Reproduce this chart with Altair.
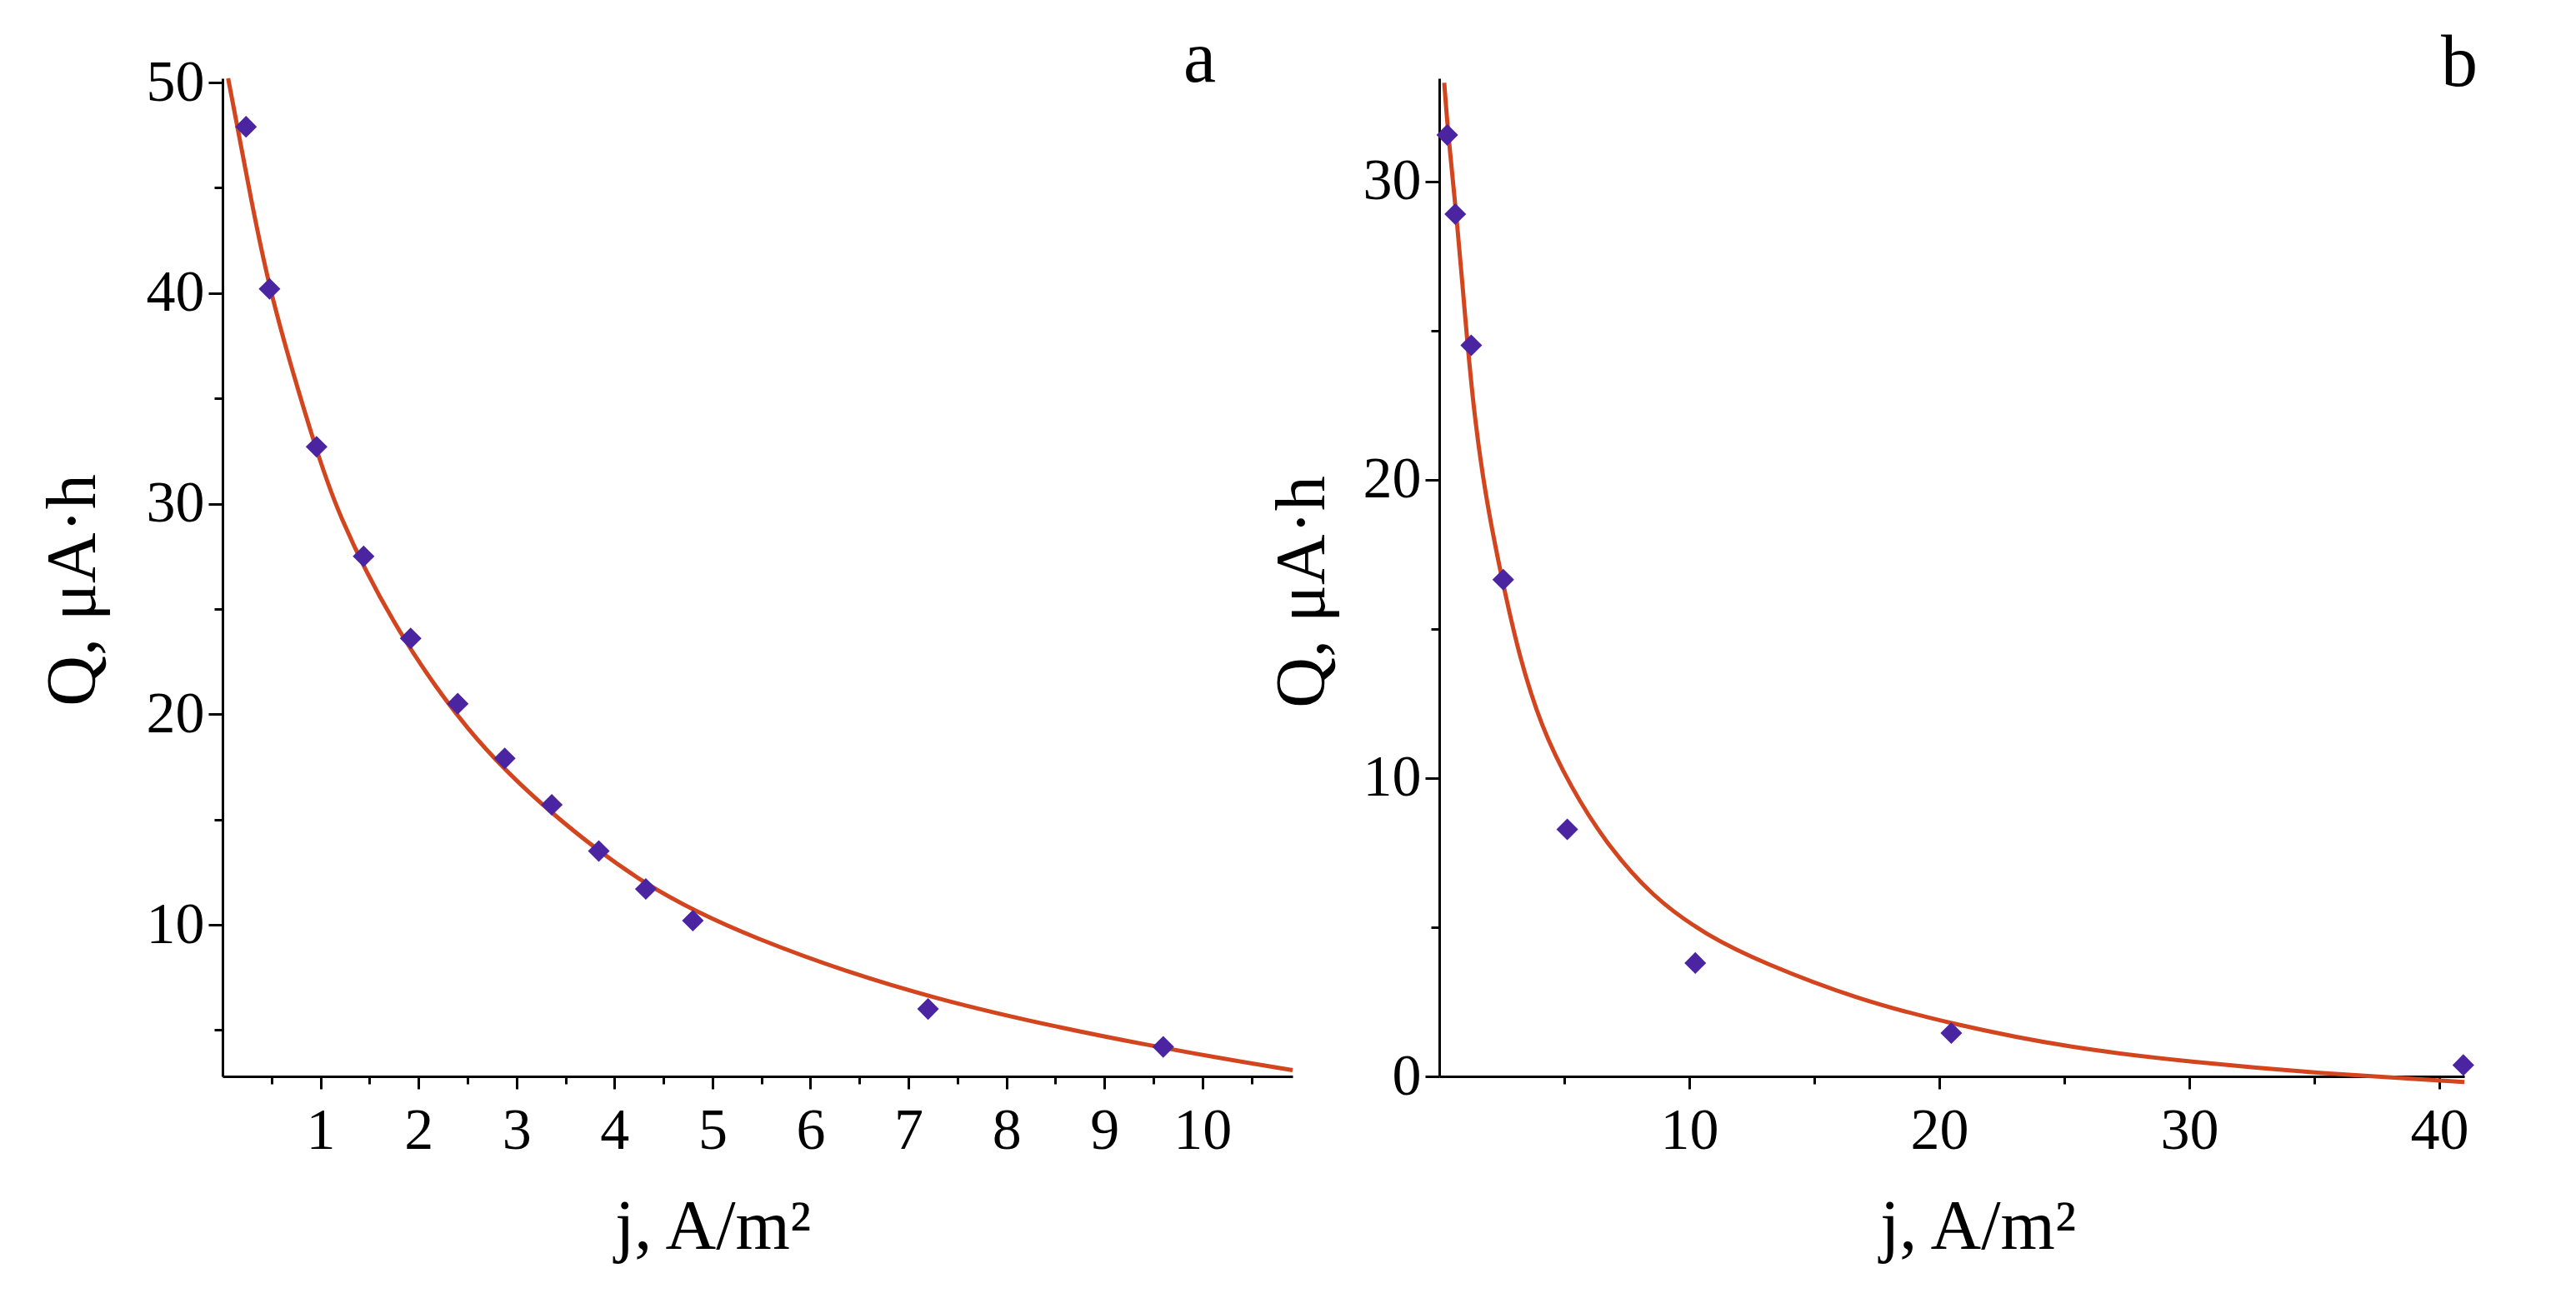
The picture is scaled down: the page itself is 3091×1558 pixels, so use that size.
import altair as alt
import pandas as pd

# ---- panel a: measured points ----
ja = [0.24, 0.48, 0.96, 1.44, 1.92, 2.4, 2.88, 3.36, 3.84, 4.32, 4.8, 7.2, 9.6]
Qa = [47.9, 40.2, 32.7, 27.5, 23.6, 20.5, 17.9, 15.7, 13.5, 11.7, 10.2, 6.0, 4.2]
# ---- panel a: fitted curve ----
fja = [0.057, 0.25, 0.47, 0.95, 1.17, 1.7, 2.5, 3.32, 4.31, 5.33, 7.2, 9.6, 10.92]
fQa = [50.2, 45.5, 40.1, 32.6, 29.6, 24.5, 19.05, 15.36, 11.8, 9.46, 6.4, 4.1, 3.1]

# ---- panel b: measured points ----
jb = [0.32, 0.64, 1.28, 2.56, 5.12, 10.24, 20.48, 40.96]
Qb = [31.55, 28.9, 24.5, 16.65, 8.28, 3.8, 1.45, 0.38]
# ---- panel b: fitted curve ----
fjb = [0.2, 0.36, 0.7, 1.03, 1.35, 1.83, 2.52, 3.19, 4.08, 5.26, 6.59, 8.52, 10.74,
       12.96, 16.66, 20.5, 25.2, 30.2, 35.2, 41.0]
fQb = [33.3, 31.5, 28.8, 25.5, 22.5, 19.5, 16.6, 14.1, 11.7, 9.7, 7.9, 6.0, 4.7,
       3.8, 2.6, 1.75, 0.95, 0.47, 0.1, -0.19]

# tick values
xa_ticks = [0.5 * i for i in range(1, 22)]
ya_ticks = [5 * i for i in range(1, 11)]
xb_ticks = [5 * i for i in range(1, 9)]
yb_ticks = [5 * i for i in range(0, 7)]

FONT = "Liberation Serif"
RED = "#D2451E"
BLUE = "#4B24A2"


def panel(px, py, fx, fy, xdom, ydom, xticks, yticks, xmaj, ymaj,
          letter, letter_dx, letter_dy, w, h, xtitle_x, ytitle_x, ytitle_y):
    pts = pd.DataFrame({"j": px, "Q": py})
    fit = pd.DataFrame({"j": fx, "Q": fy, "i": list(range(len(fx)))})
    xs = alt.Scale(domain=xdom, nice=False, zero=False)
    ys = alt.Scale(domain=ydom, nice=False, zero=False)
    xaxis = alt.Axis(
        values=xticks, title="j, A/m²",
        labelExpr=f"({xmaj}) ? format(datum.value, 'd') : ''",
        tickSize={"condition": {"test": xmaj, "value": 15}, "value": 9},
        labelBaseline="alphabetic", labelPadding=71,
        titleX=xtitle_x, titleY=206, titleBaseline="alphabetic", titleAnchor="middle",
        titleAlign="center",
    )
    yaxis = alt.Axis(
        values=yticks, title="Q, μA·h",
        labelExpr=f"({ymaj}) ? format(datum.value, 'd') : ''",
        tickSize={"condition": {"test": ymaj, "value": 17}, "value": 10},
        labelPadding=5,
        titleX=ytitle_x, titleY=ytitle_y, titleAngle=270, titleBaseline="alphabetic",
        titleAlign="center",
    )
    line = alt.Chart(fit).mark_line(color=RED, strokeWidth=5, interpolate="basis",
                                    clip=False).encode(
        x=alt.X("j:Q", scale=xs, axis=xaxis),
        y=alt.Y("Q:Q", scale=ys, axis=yaxis),
        order="i:Q",
    )
    dots = alt.Chart(pts).mark_point(shape="diamond", filled=True, size=680, color=BLUE,
                                     opacity=1).encode(
        x=alt.X("j:Q", scale=xs),
        y=alt.Y("Q:Q", scale=ys),
    )
    return alt.layer(line, dots).properties(
        width=w, height=h,
        title=alt.TitleParams(text=letter, anchor="end", orient="top", frame="group",
                              baseline="alphabetic", offset=-6, dx=letter_dx, dy=letter_dy,
                              font=FONT, fontSize=88, fontWeight="normal", color="black"),
    )


a = panel(ja, Qa, fja, fQa, [0, 10.92], [2.8, 50.2], xa_ticks, ya_ticks,
          "datum.value % 1 == 0", "datum.value % 10 == 0",
          "a", -92, 116, 1284, 1198, 588, -154, 614)
b = panel(jb, Qb, fjb, fQb, [0, 41], [0, 33.45], xb_ticks, yb_ticks,
          "datum.value % 10 == 0", "datum.value % 10 == 0",
          "b", 16, 96, 1230, 1198, 646, -139, 616)

chart = alt.hconcat(a, b, spacing=176, bounds="flush").properties(
    padding={"left": 38, "top": 20, "right": 5, "bottom": 5},
    background="white",
).configure_view(stroke=None).configure_axis(
    grid=False,
    domainColor="black", domainWidth=3,
    tickColor="black", tickWidth=3,
    labelFont=FONT, labelFontSize=70, labelColor="black",
    titleFont=FONT, titleFontSize=84, titleFontWeight="normal", titleColor="black",
    labelOverlap=False, labelFlush=False,
)

chart.save("out.html", embed_options={"renderer": "svg", "actions": False})
